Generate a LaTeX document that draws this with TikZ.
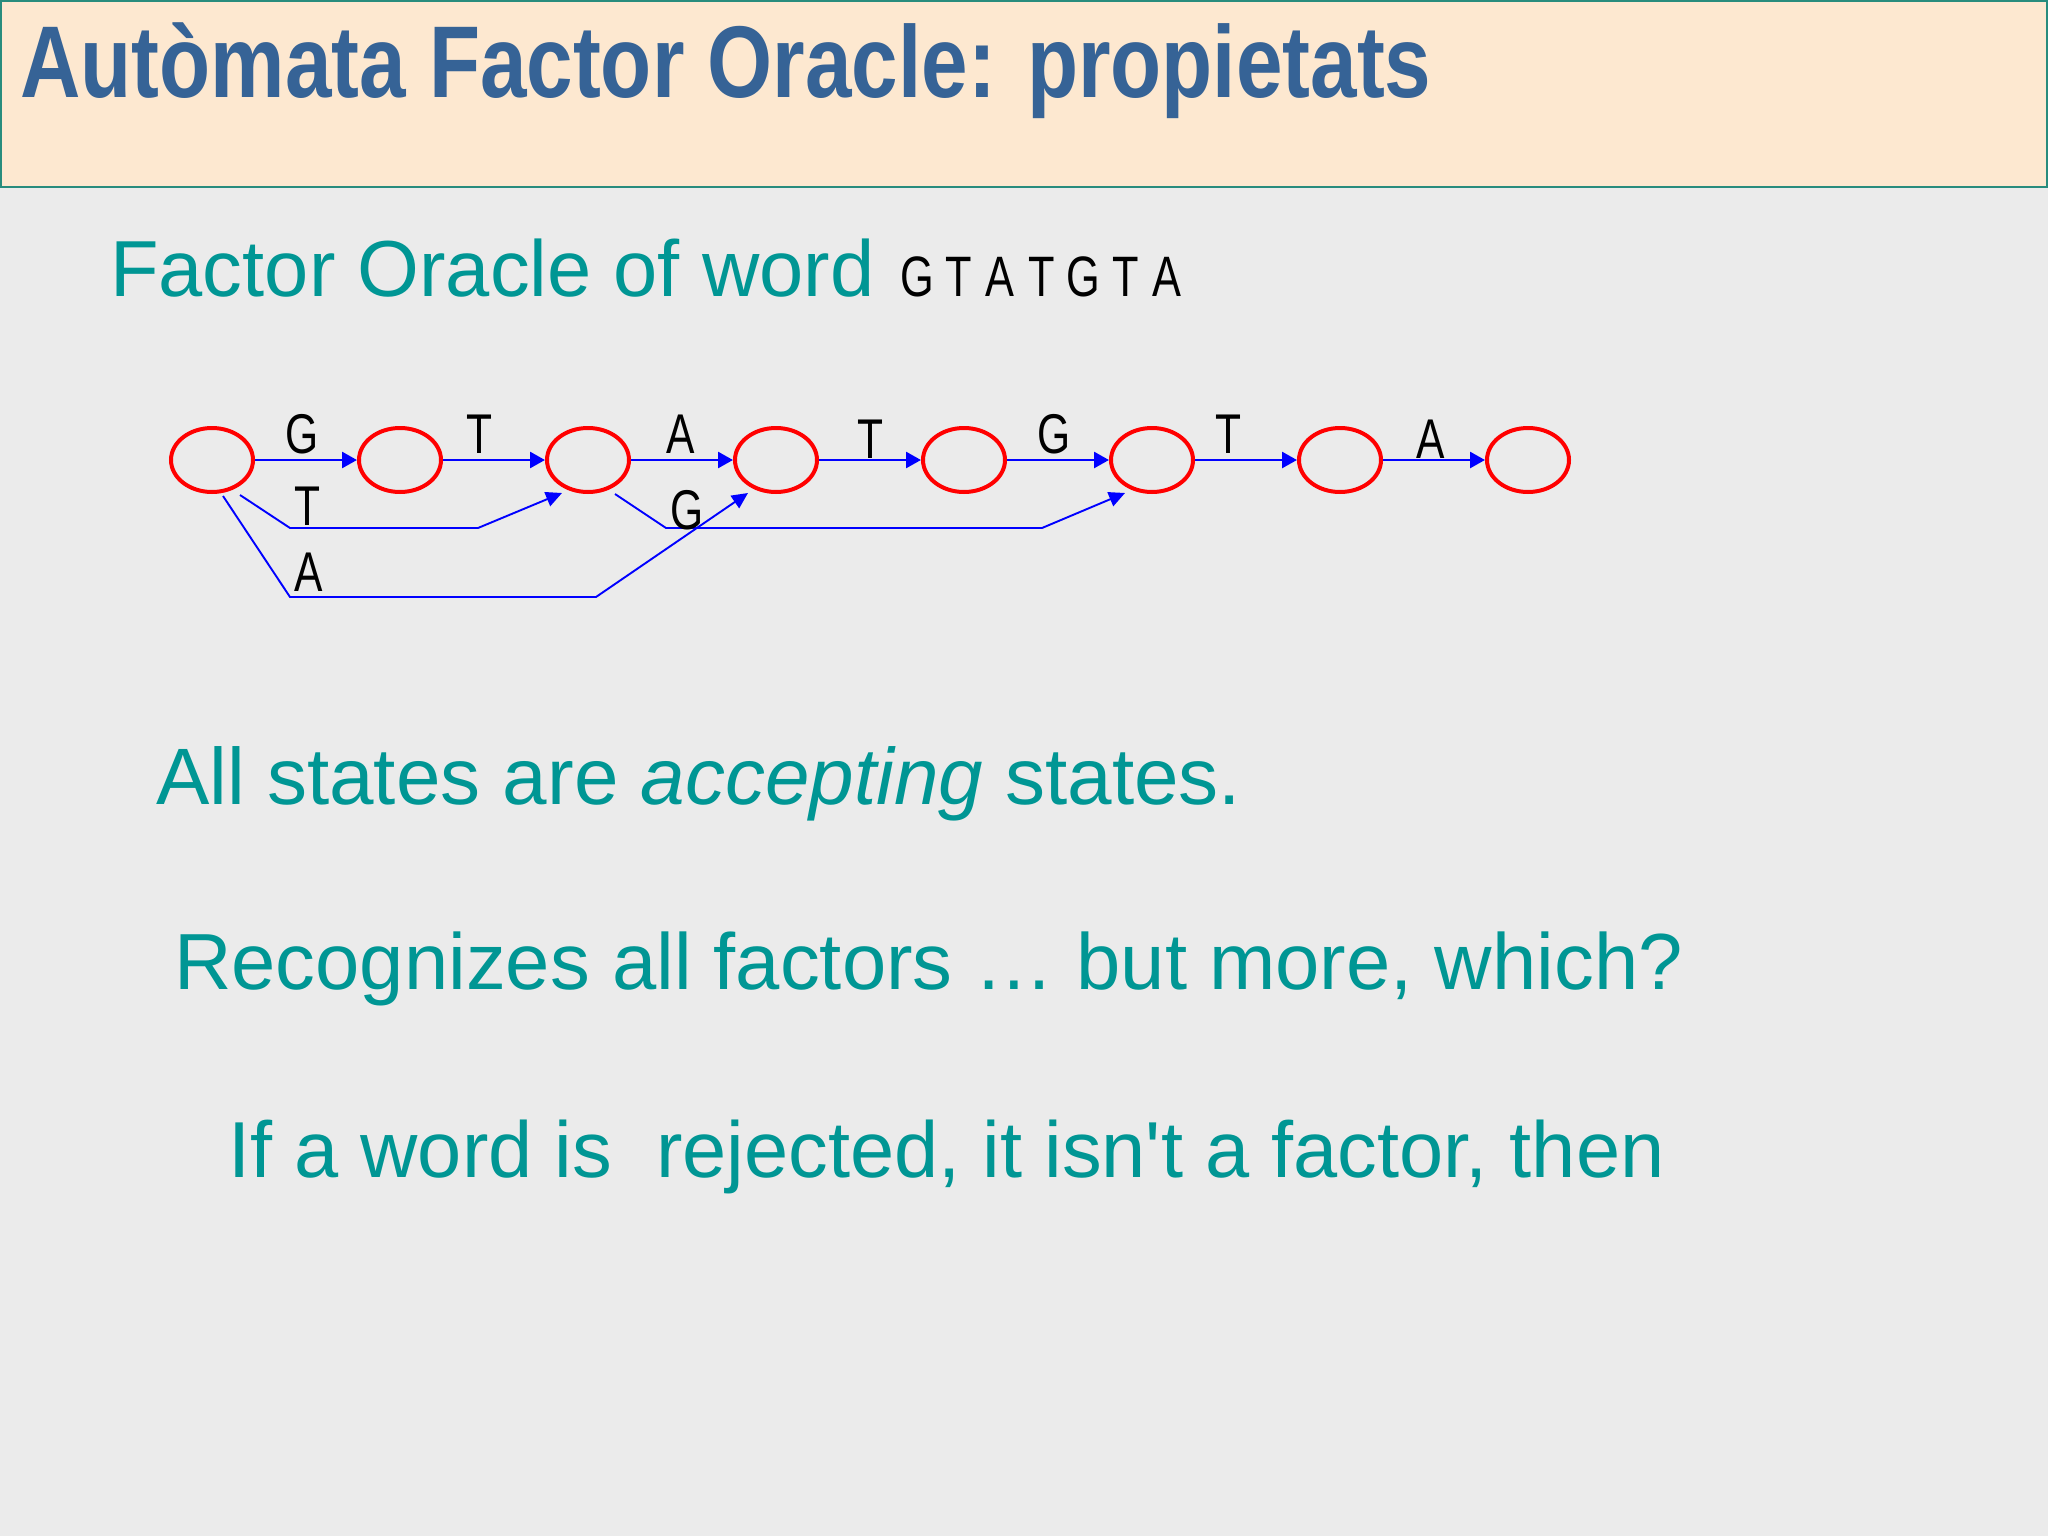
\documentclass[tikz,border=0pt]{standalone}
\usepackage{fontspec}
\usepackage{graphicx}
\usetikzlibrary{shapes.geometric,arrows.meta}
\newfontfamily\bodyfont{Liberation Sans}
\definecolor{bgcol}{RGB}{235,235,235}
\definecolor{barcol}{RGB}{253,232,208}
\definecolor{barline}{RGB}{40,140,125}
\definecolor{titlecol}{RGB}{54,99,150}
\definecolor{tealtext}{RGB}{0,150,148}
\tikzset{
  state/.style={ellipse, draw=red, line width=4pt, minimum width=82pt, minimum height=64pt, inner sep=0pt},
  edge/.style={draw=blue, line width=2.7pt, -{Triangle[length=15pt,width=16pt]}},
  lowedge/.style={draw=blue, line width=1.9pt, -{Triangle[length=16pt,width=15pt]}},
  lab/.style={anchor=base, inner sep=0pt, font=\bodyfont\fontsize{56}{60}\selectfont},
  bodytext/.style={anchor=base west, inner sep=0pt, text=tealtext, font=\bodyfont\fontsize{80}{90}\selectfont},
}
\newcommand{\narrow}[1]{\scalebox{0.76}[1]{#1}}
\begin{document}
\begin{tikzpicture}[x=1pt,y=-1pt]
\useasboundingbox (0,0) rectangle (2048,1536);
\fill[bgcol] (0,0) rectangle (2048,1536);
% title bar
\draw[fill=barcol, draw=barline, line width=2.5pt] (1,1) rectangle (2047,187);
\node[anchor=base west, inner sep=0pt, text=titlecol, font=\bodyfont\bfseries\fontsize{102}{110}\selectfont] (title) at (20,98) {\scalebox{0.82}[1]{Autòmata Factor Oracle: propietats}};
% subtitle
\node[bodytext, font=\bodyfont\fontsize{79.5}{90}\selectfont] (sub) at (110,296) {Factor Oracle of word};
\foreach \c [count=\i from 0] in {G,T,A,T,G,T,A} {
  \node[lab, font=\bodyfont\fontsize{57}{60}\selectfont] (w\i) at (917+41.7*\i,296) {\narrow{\c}};
}
% states
\foreach \i in {0,...,7} {
  \node[state] (q\i) at (212+188*\i,460) {};
}
% main edges
\draw[edge] (q0) -- (q1);
\draw[edge] (q1) -- (q2);
\draw[edge] (q2) -- (q3);
\draw[edge] (q3) -- (q4);
\draw[edge] (q4) -- (q5);
\draw[edge] (q5) -- (q6);
\draw[edge] (q6) -- (q7);
\node[lab] (l01) at (302,453) {\narrow{G}};
\node[lab] (l12) at (479,453) {\narrow{T}};
\node[lab] (l23) at (681,453) {\narrow{A}};
\node[lab] (l34) at (870,458) {\narrow{T}};
\node[lab] (l45) at (1054,453) {\narrow{G}};
\node[lab] (l56) at (1228,453) {\narrow{T}};
\node[lab] (l67) at (1431,458) {\narrow{A}};
% lower edges
\coordinate (t1) at (290,528);
\coordinate (t2) at (478,528);
\draw[lowedge] ([shift={(28,35)}]q0.center) -- (t1) -- (t2) -- ([shift={(-26,33)}]q2.center);
\coordinate (a1) at (290,597);
\coordinate (a2) at (596,597);
\draw[lowedge] ([shift={(11,36)}]q0.center) -- (a1) -- (a2) -- ([shift={(-28,33)}]q3.center);
\coordinate (g1) at (666,528);
\coordinate (g2) at (1042,528);
\draw[lowedge] ([shift={(27,34)}]q2.center) -- (g1) -- (g2) -- ([shift={(-27,33)}]q5.center);
\node[lab] (l02) at (307,525) {\narrow{T}};
\node[lab] (l03) at (309,591) {\narrow{A}};
\node[lab] (l25) at (687,529) {\narrow{G}};
% body text
\node[bodytext] (p1) at (156,804) {All states are \textit{accepting} states.};
\node[bodytext, font=\bodyfont\fontsize{79.6}{90}\selectfont] (p2) at (174,989) {Recognizes all factors … but more, which?};
\node[bodytext, font=\bodyfont\fontsize{79.4}{90}\selectfont] (p3) at (228,1177) {If a word is \ rejected, it isn't a factor, then};
\end{tikzpicture}
\end{document}
